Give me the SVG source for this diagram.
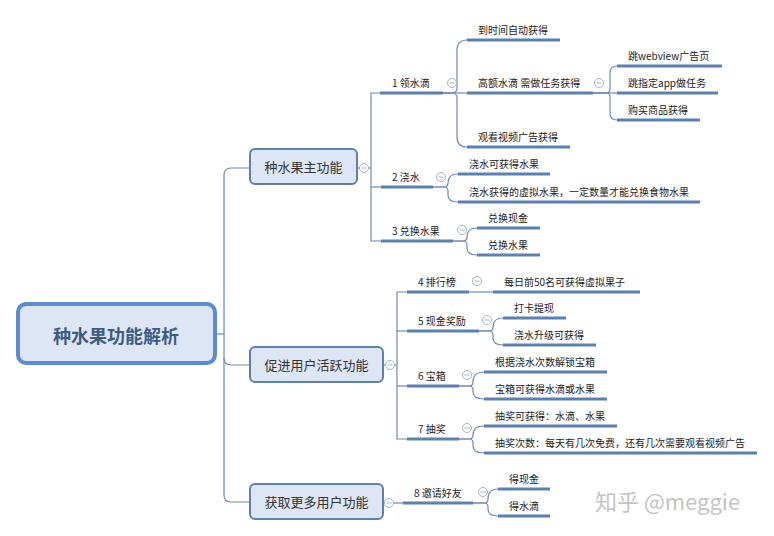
<svg xmlns="http://www.w3.org/2000/svg" width="774" height="536" viewBox="0 0 774 536">
<style>
text{font-family:"Noto Sans CJK SC","Noto Sans",sans-serif;}
.t{font-size:10px;fill:#222;}
.b{font-size:13px;fill:#333;text-anchor:middle;}
.r{font-size:18px;font-weight:bold;fill:#3d5c85;text-anchor:middle;}
.ul{stroke:#5b80b4;stroke-width:3;fill:none;}
.c{stroke:#6d8bb3;stroke-width:1.2;fill:none;}
.nd{fill:#dce6f4;stroke:#5f80ad;stroke-width:2;}
.col{fill:#fff;stroke:#a5b5ca;stroke-width:1;}
.m{stroke:#a5b5ca;stroke-width:1;}
.wm{font-size:22px;fill:#c4c4c4;}
</style>
<defs>
<g id="minus"><circle class="col" r="4.5"/><line class="m" x1="-2.5" y1="0" x2="2.5" y2="0"/></g>
</defs>
<rect width="774" height="536" fill="#fff"/>
<g id="connectors">
<path class="c" d="M217 334 H224"/>
<path class="c" d="M250 168 H231 Q224 168 224 175 V495 Q224 502 231 502 H250"/>
<path class="c" d="M224 358 Q224 365 231 365 H250"/>
<path class="c" d="M357 168 H371"/>
<path class="c" d="M380 93 H371 V241 H381"/>
<path class="c" d="M371 187 H381"/>
<path class="c" d="M383 365 H397"/>
<path class="c" d="M407 292 H397 V439 H407"/>
<path class="c" d="M397 331 H407"/>
<path class="c" d="M397 386 H407"/>
<path class="c" d="M383 503 H403"/>
<path class="c" d="M443 93 H467"/>
<path class="c" d="M443 93 H452 Q457 93 457 88 V50 Q457 40 467 40"/>
<path class="c" d="M443 93 H452 Q457 93 457 98 V137 Q457 147 467 147"/>
<path class="c" d="M593 93 H617"/>
<path class="c" d="M593 93 H606 Q610 93 610 89 V73 Q610 66 617 66"/>
<path class="c" d="M593 93 H606 Q610 93 610 97 V113 Q610 120 617 120"/>
<path class="c" d="M433 187 H444 Q448 187 448 183 Q448 174 458 174"/>
<path class="c" d="M433 187 H444 Q448 187 448 191 V195 Q448 202 458 202"/>
<path class="c" d="M453 241 H463 Q467 241 467 237 Q467 228 477 228"/>
<path class="c" d="M453 241 H463 Q467 241 467 245 V248 Q467 255 477 255"/>
<path class="c" d="M469 292 H493"/>
<path class="c" d="M479 331 H489 Q493 331 493 327 Q493 318 503 318"/>
<path class="c" d="M479 331 H489 Q493 331 493 335 V338 Q493 345 503 345"/>
<path class="c" d="M459 386 H469 Q473 386 473 382 Q473 372 484 372"/>
<path class="c" d="M459 386 H469 Q473 386 473 390 V392 Q473 399 484 399"/>
<path class="c" d="M459 439 H469 Q473 439 473 435 Q473 426 484 426"/>
<path class="c" d="M459 439 H469 Q473 439 473 443 V446 Q473 453 484 453"/>
<path class="c" d="M473 503 H484 Q488 503 488 499 Q488 489 498 489"/>
<path class="c" d="M473 503 H484 Q488 503 488 507 V509 Q488 516 498 516"/>
</g>
<g id="root"><rect x="18" y="304" width="197" height="59" rx="8" fill="#dce6f4" stroke="#5b8bd0" stroke-width="4"/><text class="r" x="116" y="343">种水果功能解析</text></g>
<g id="n1"><rect class="nd" x="250" y="149" width="107" height="35" rx="5"/><text class="b" x="303.5" y="172">种水果主功能</text><use href="#minus" x="364" y="168"/></g>
<g id="n2"><rect class="nd" x="250" y="347" width="133" height="35" rx="5"/><text class="b" x="316.5" y="370">促进用户活跃功能</text><use href="#minus" x="390" y="365"/></g>
<g id="n3"><rect class="nd" x="250" y="484" width="133" height="35" rx="5"/><text class="b" x="316.5" y="507">获取更多用户功能</text><use href="#minus" x="389" y="503"/></g>
<g id="t1"><line class="ul" x1="380" y1="93" x2="443" y2="93"/><text class="t" x="392" y="87">1 领水滴</text><use href="#minus" x="452" y="83"/></g>
<g id="t2"><line class="ul" x1="381" y1="187" x2="433" y2="187"/><text class="t" x="392" y="181">2 浇水</text><use href="#minus" x="441" y="177"/></g>
<g id="t3"><line class="ul" x1="381" y1="241" x2="453" y2="241"/><text class="t" x="392" y="235">3 兑换水果</text><use href="#minus" x="462" y="230"/></g>
<g id="t4"><line class="ul" x1="407" y1="292" x2="469" y2="292"/><text class="t" x="418" y="286">4 排行榜</text><use href="#minus" x="477" y="281"/></g>
<g id="t5"><line class="ul" x1="407" y1="331" x2="479" y2="331"/><text class="t" x="418" y="325">5 现金奖励</text><use href="#minus" x="487" y="320"/></g>
<g id="t6"><line class="ul" x1="407" y1="386" x2="459" y2="386"/><text class="t" x="418" y="380">6 宝箱</text><use href="#minus" x="467" y="375"/></g>
<g id="t7"><line class="ul" x1="407" y1="439" x2="459" y2="439"/><text class="t" x="418" y="433">7 抽奖</text><use href="#minus" x="467" y="428"/></g>
<g id="t8"><line class="ul" x1="403" y1="503" x2="473" y2="503"/><text class="t" x="414" y="497">8 邀请好友</text><use href="#minus" x="483" y="492"/></g>
<g id="c1"><line class="ul" x1="467" y1="40" x2="560" y2="40"/><text class="t" x="478" y="34">到时间自动获得</text></g>
<g id="c2"><line class="ul" x1="467" y1="93" x2="593" y2="93"/><text class="t" x="478" y="87">高额水滴 需做任务获得</text><use href="#minus" x="599" y="83"/></g>
<g id="c3"><line class="ul" x1="467" y1="147" x2="570" y2="147"/><text class="t" x="478" y="141">观看视频广告获得</text></g>
<g id="c4"><line class="ul" x1="617" y1="66" x2="722" y2="66"/><text class="t" x="628" y="60">跳webview广告页</text></g>
<g id="c5"><line class="ul" x1="617" y1="93" x2="718" y2="93"/><text class="t" x="628" y="87">跳指定app做任务</text></g>
<g id="c6"><line class="ul" x1="617" y1="120" x2="700" y2="120"/><text class="t" x="628" y="114">购买商品获得</text></g>
<g id="c7"><line class="ul" x1="458" y1="174" x2="550" y2="174"/><text class="t" x="469" y="168">浇水可获得水果</text></g>
<g id="c8"><line class="ul" x1="458" y1="202" x2="700" y2="202"/><text class="t" x="469" y="196">浇水获得的虚拟水果，一定数量才能兑换食物水果</text></g>
<g id="c9"><line class="ul" x1="477" y1="228" x2="540" y2="228"/><text class="t" x="488" y="222">兑换现金</text></g>
<g id="c10"><line class="ul" x1="477" y1="255" x2="540" y2="255"/><text class="t" x="488" y="249">兑换水果</text></g>
<g id="c11"><line class="ul" x1="493" y1="292" x2="640" y2="292"/><text class="t" x="504" y="286">每日前50名可获得虚拟果子</text></g>
<g id="c12"><line class="ul" x1="503" y1="318" x2="566" y2="318"/><text class="t" x="514" y="312">打卡提现</text></g>
<g id="c13"><line class="ul" x1="503" y1="345" x2="596" y2="345"/><text class="t" x="514" y="339">浇水升级可获得</text></g>
<g id="c14"><line class="ul" x1="484" y1="372" x2="607" y2="372"/><text class="t" x="495" y="366">根据浇水次数解锁宝箱</text></g>
<g id="c15"><line class="ul" x1="484" y1="399" x2="607" y2="399"/><text class="t" x="495" y="393">宝箱可获得水滴或水果</text></g>
<g id="c16"><line class="ul" x1="484" y1="426" x2="617" y2="426"/><text class="t" x="495" y="420">抽奖可获得：水滴、水果</text></g>
<g id="c17"><line class="ul" x1="484" y1="453" x2="757" y2="453"/><text class="t" x="495" y="447">抽奖次数：每天有几次免费，还有几次需要观看视频广告</text></g>
<g id="c18"><line class="ul" x1="498" y1="489" x2="550" y2="489"/><text class="t" x="509" y="483">得现金</text></g>
<g id="c19"><line class="ul" x1="498" y1="516" x2="550" y2="516"/><text class="t" x="509" y="510">得水滴</text></g>
<text class="wm" x="595" y="510">知乎 @meggie</text>
</svg>
